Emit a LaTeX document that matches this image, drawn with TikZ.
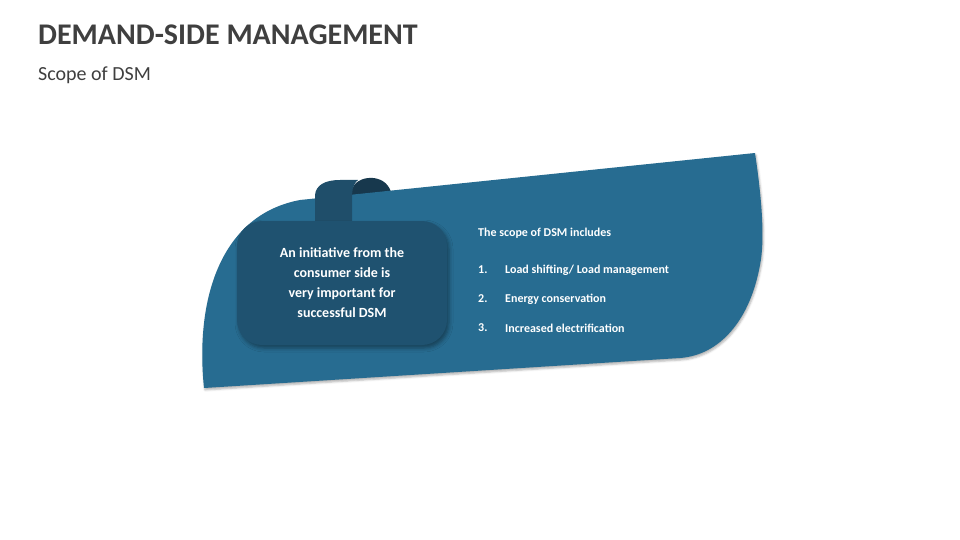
\documentclass[tikz,border=0pt]{standalone}
\usepackage{fontspec}
\setmainfont{Carlito}
\usetikzlibrary{shadows.blur}
\definecolor{mainb}{HTML}{276C91}
\definecolor{darkb}{HTML}{1F5270}
\definecolor{tabb}{HTML}{1F4E6A}
\definecolor{tabd}{HTML}{17384D}
\definecolor{titleg}{HTML}{3F3F3F}
\begin{document}
\begin{tikzpicture}[x=1pt,y=-1pt,
  txt/.style={text=white,font=\fontsize{12}{14}\selectfont\bfseries,anchor=west,inner sep=0pt}]
\useasboundingbox (0,0) rectangle (960,540);
\node[anchor=west,text=titleg,font=\fontsize{30}{34}\selectfont\bfseries,inner sep=0pt] (title) at (38,35) {DEMAND-SIDE MANAGEMENT};
\node[anchor=west,text=titleg,font=\fontsize{20}{24}\selectfont,inner sep=0pt] (sub) at (38,75) {Scope of DSM};
% tab back
\fill[tabd] (352,205) -- (352,190) .. controls (355,175) and (385,172) .. (391,192) -- (391,205) -- cycle;
% main shape
\fill[mainb, blur shadow={shadow xshift=1pt,shadow yshift=-2pt,shadow blur radius=2pt,shadow opacity=30}]
  (204,388) .. controls (195,300) and (220,215) .. (300,200)
  -- (755,153) .. controls (762,200) and (765,240) .. (760,265)
  .. controls (750,320) and (720,355) .. (680,358) -- cycle;
% tab front
\fill[tabb] (315,230) -- (315,195) .. controls (316,185) and (325,180) .. (340,180) -- (358,180) .. controls (352,185) and (352,192) .. (352,200) -- (352,230) -- cycle;
% box
\node[fill=darkb,rounded corners=25pt,minimum width=210pt,minimum height=124pt,
  blur shadow={shadow xshift=2pt,shadow yshift=-3pt,shadow blur radius=4pt,shadow opacity=40},
  align=center,text=white,font=\fontsize{14}{20}\selectfont\bfseries] (box) at (342,283)
  {An initiative from the\\consumer side is\\very important for\\successful DSM};
\node[txt] (head) at (478,233) {The scope of DSM includes};
\node[txt] (n1) at (478,270) {1.};
\node[txt] (t1) at (505,270) {Load shifting/ Load management};
\node[txt] (n2) at (478,299) {2.};
\node[txt] (t2) at (505,299) {Energy conservation};
\node[txt] (n3) at (478,328) {3.};
\node[txt] (t3) at (505,328) {Increased electrification};
\end{tikzpicture}
\end{document}
